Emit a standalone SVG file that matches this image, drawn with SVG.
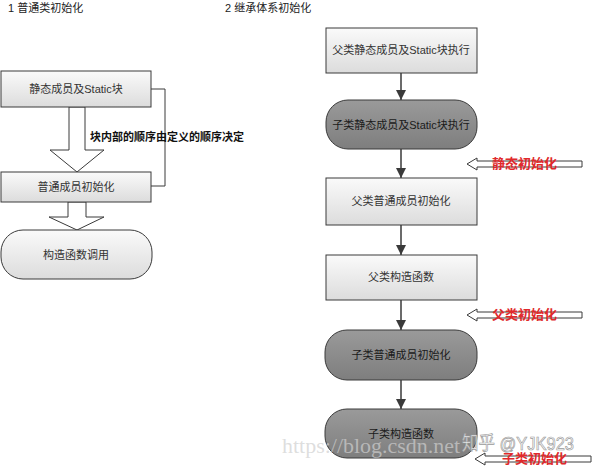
<svg xmlns="http://www.w3.org/2000/svg" width="592" height="469" viewBox="0 0 592 469">
<defs>
<linearGradient id="lg" x1="0" y1="0" x2="0" y2="1"><stop offset="0" stop-color="#fafafa"/><stop offset="1" stop-color="#dcdcdc"/></linearGradient>
<linearGradient id="dg" x1="0" y1="0" x2="0" y2="1"><stop offset="0" stop-color="#9a9a9a"/><stop offset="1" stop-color="#7e7e7e"/></linearGradient>
<marker id="ah" viewBox="0 0 10 10" refX="10" refY="5" markerWidth="10" markerHeight="10" markerUnits="userSpaceOnUse" orient="auto"><path d="M0,0 L10,5 L0,10 z" fill="#3a3a3a"/></marker>
</defs>
<style>
text{font-family:"Liberation Sans","Noto Sans CJK SC",sans-serif;}
.lt{fill:url(#lg);stroke:#3a3a3a;stroke-width:1;}
.dk{fill:url(#dg);stroke:#3a3a3a;stroke-width:1;}
.t{font-size:11px;fill:#333;text-anchor:middle;dominant-baseline:central;}
.td{font-size:11px;fill:#1a1a1a;text-anchor:middle;dominant-baseline:central;}
.ttl{font-size:11px;fill:#222;}
.red{font-size:13px;fill:#e0292b;font-weight:bold;dominant-baseline:central;}
.hol{fill:#fff;stroke:#3a3a3a;stroke-width:1;}
.cn{stroke:#3a3a3a;stroke-width:1.5;fill:none;}
</style>
<text class="ttl" x="8" y="12">1 普通类初始化</text>
<text class="ttl" x="225" y="12">2 继承体系初始化</text>
<g id="connectors">
<path class="hol" d="M69,107 L85,107 L85,150 L104,150 L77,172 L50,150 L69,150 Z"/>
<path class="hol" d="M68,202 L86,202 L86,217 L104,217 L77,230 L49,217 L68,217 Z"/>
<path class="cn" d="M151,89 L165,89 L165,186 L151,186" style="stroke-width:1"/>
<line class="cn" x1="401" y1="73" x2="401" y2="100" marker-end="url(#ah)"/>
<line class="cn" x1="401" y1="149" x2="401" y2="178" marker-end="url(#ah)"/>
<line class="cn" x1="401" y1="225" x2="401" y2="255" marker-end="url(#ah)"/>
<line class="cn" x1="401" y1="300" x2="401" y2="330" marker-end="url(#ah)"/>
<line class="cn" x1="401" y1="380" x2="401" y2="409" marker-end="url(#ah)"/>
</g>
<g id="n1"><rect class="lt" x="1" y="71" width="150" height="36"/><text class="t" x="76" y="89">静态成员及Static块</text></g>
<g id="n2"><rect class="lt" x="1" y="172" width="150" height="30"/><text class="t" x="76" y="187">普通成员初始化</text></g>
<g id="n3"><rect class="lt" x="1" y="230" width="151" height="49" rx="22"/><text class="t" x="76" y="255">构造函数调用</text></g>
<text x="90" y="137" style="font-size:11px;fill:#111;font-weight:bold;dominant-baseline:central">块内部的顺序由定义的顺序决定</text>
<g id="a1"><rect class="lt" x="326" y="28" width="151" height="45"/><text class="t" x="401" y="50">父类静态成员及Static块执行</text></g>
<g id="a2"><rect class="dk" x="326" y="100" width="151" height="49" rx="22"/><text class="td" x="401" y="125">子类静态成员及Static块执行</text></g>
<g id="a3"><rect class="lt" x="326" y="178" width="151" height="47"/><text class="t" x="401" y="201">父类普通成员初始化</text></g>
<g id="a4"><rect class="lt" x="326" y="255" width="151" height="45"/><text class="t" x="401" y="277">父类构造函数</text></g>
<g id="a5"><rect class="dk" x="325" y="330" width="152" height="50" rx="22"/><text class="td" x="401" y="355">子类普通成员初始化</text></g>
<g id="a6"><rect class="dk" x="325" y="409" width="152" height="49" rx="22"/><text class="td" x="401" y="434">子类构造函数</text></g>
<g id="s1"><path class="hol" d="M467,164 L477,158 L477,161 L582,161 L582,167 L477,167 L477,170 Z"/><text class="red" x="492" y="163">静态初始化</text></g>
<g id="s2"><path class="hol" d="M467,315 L477,309 L477,312 L582,312 L582,318 L477,318 L477,321 Z"/><text class="red" x="492" y="314">父类初始化</text></g>
<g id="s3"><path class="hol" d="M475,459 L485,453 L485,456 L591,456 L591,462 L485,462 L485,465 Z"/><text class="red" x="502" y="458">子类初始化</text></g>
<text x="282" y="453" textLength="178" lengthAdjust="spacingAndGlyphs" style="font-family:'Liberation Serif',serif;font-size:21px;fill:#cfcfcf;fill-opacity:0.7">https://blog.csdn.net</text>
<text x="462" y="450" textLength="112" lengthAdjust="spacingAndGlyphs" style="font-size:19px;fill:#fff;fill-opacity:0.85;stroke:#9a9a9a;stroke-width:0.7">知乎 @YJK923</text>
</svg>
